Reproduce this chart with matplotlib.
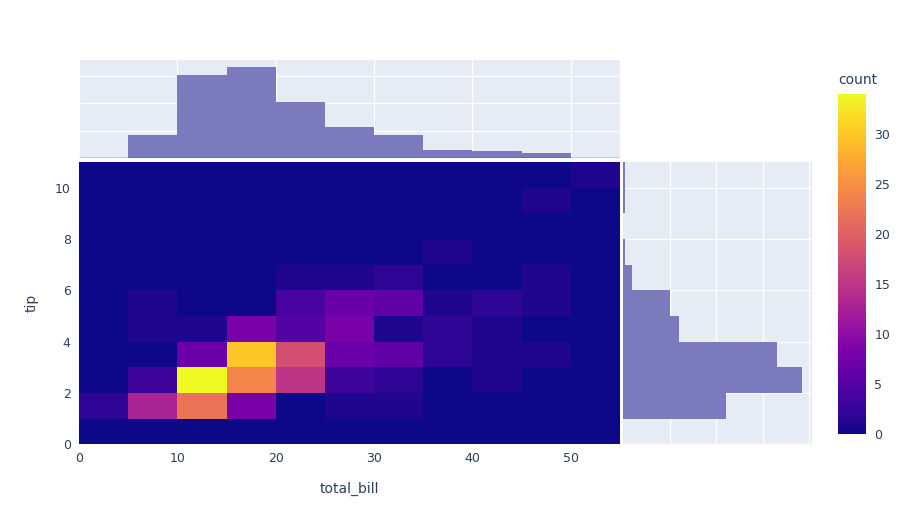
import numpy as np
import matplotlib.pyplot as plt

# bins
x_edges = np.arange(0, 60, 5)
y_edges = np.arange(0, 12, 1)

# heatmap counts: rows = tip bins 0..10, cols = total_bill bins 0..10
counts = np.array([
    [0, 0, 0, 0, 0, 0, 0, 0, 0, 0, 0],
    [2, 13, 22, 8, 0, 1, 1, 0, 0, 0, 0],
    [0, 3, 34, 24, 15, 3, 2, 0, 1, 0, 0],
    [0, 0, 7, 30, 18, 7, 6, 2, 1, 1, 0],
    [0, 1, 1, 8, 5, 8, 1, 2, 1, 0, 0],
    [0, 1, 0, 0, 4, 7, 6, 1, 2, 1, 0],
    [0, 0, 0, 0, 1, 1, 2, 0, 0, 1, 0],
    [0, 0, 0, 0, 0, 0, 0, 1, 0, 0, 0],
    [0, 0, 0, 0, 0, 0, 0, 0, 0, 0, 0],
    [0, 0, 0, 0, 0, 0, 0, 0, 0, 1, 0],
    [0, 0, 0, 0, 0, 0, 0, 0, 0, 0, 1],
])

# marginal histograms
bill_counts = [0, 17, 61, 67, 41, 23, 17, 6, 5, 4, 0]
tip_counts = [0, 44, 77, 66, 24, 20, 4, 1, 0, 1, 1]

bg = "#E5ECF6"
txt = "#2a3f5f"
bar_c = "#7a7bbc"

fig = plt.figure(figsize=(9.03, 5.25), dpi=100)

ax = fig.add_axes([0.0875, 0.154, 0.599, 0.537])
mesh = ax.pcolormesh(x_edges, y_edges, counts, cmap="plasma", vmin=0, vmax=34)
ax.set_xlim(0, 55)
ax.set_ylim(0, 11)
ax.set_xticks(range(0, 55, 10))
ax.set_yticks(range(0, 11, 2))
ax.set_xlabel("total_bill", color=txt, fontsize=10, labelpad=12)
ax.set_ylabel("tip", color=txt, fontsize=10, labelpad=12)
ax.tick_params(colors=txt, labelsize=9, length=0, pad=6)
for s in ax.spines.values():
    s.set_visible(False)

axt = fig.add_axes([0.0875, 0.699, 0.599, 0.187], sharex=ax)
axt.set_facecolor(bg)
axt.bar(x_edges[:-1], bill_counts, width=5, align="edge", color=bar_c, zorder=3)
axt.set_ylim(0, 72)
axt.set_yticks([20, 40, 60])
axt.grid(True, color="white", linewidth=1, zorder=0)
axt.tick_params(labelbottom=False, labelleft=False, length=0)
for s in axt.spines.values():
    s.set_visible(False)
axt.axhline(0, color=txt, linewidth=1, zorder=4)

axr = fig.add_axes([0.690, 0.154, 0.209, 0.537], sharey=ax)
axr.set_facecolor(bg)
axr.barh(y_edges[:-1], tip_counts, height=1, align="edge", color=bar_c, zorder=3)
axr.set_xlim(0, 81)
axr.set_xticks([20, 40, 60, 80])
axr.grid(True, color="white", linewidth=1, zorder=0)
axr.tick_params(labelbottom=False, labelleft=False, length=0)
for s in axr.spines.values():
    s.set_visible(False)

cax = fig.add_axes([0.928, 0.173, 0.031, 0.648])
cb = fig.colorbar(mesh, cax=cax)
cb.set_ticks(range(0, 35, 5))
cb.outline.set_visible(False)
cax.tick_params(colors=txt, labelsize=9, length=0, pad=6)
fig.text(0.928, 0.84, "count", color=txt, fontsize=10)

fig.savefig("out.png", dpi=100)
